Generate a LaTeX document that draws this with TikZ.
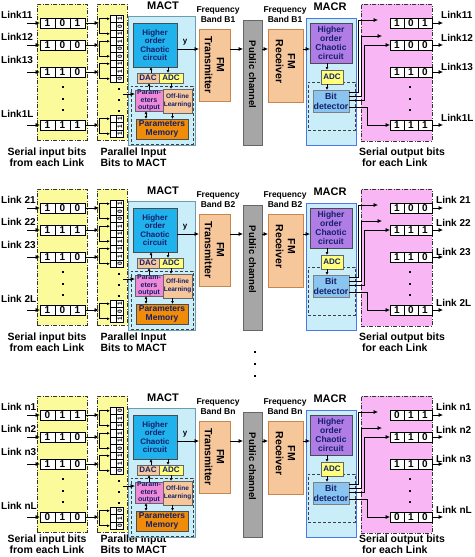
\documentclass[tikz,border=0pt]{standalone}
\usepackage{fontspec}
\setmainfont{Liberation Sans}
\usetikzlibrary{arrows.meta}
\definecolor{ylwbox}{HTML}{FBFB9C}
\definecolor{pinkbox}{HTML}{F9B6F4}
\definecolor{macfill}{HTML}{C9EEFA}
\definecolor{mactdraw}{HTML}{6C9DAE}
\definecolor{macrdraw}{HTML}{4A78F0}
\definecolor{hoccblue}{HTML}{1FB2EC}
\definecolor{hoccpurple}{HTML}{B07CE6}
\definecolor{tanfill}{HTML}{F7C79C}
\definecolor{adcyellow}{HTML}{FFFF7A}
\definecolor{paramout}{HTML}{F08AD8}
\definecolor{memorange}{HTML}{F08C08}
\definecolor{chgray}{HTML}{A6A6A6}
\definecolor{bitdet}{HTML}{8AC4F0}
\definecolor{navytext}{HTML}{14206A}
\definecolor{tandraw}{HTML}{C8864A}

\newcommand\fsz[2]{\fontsize{#1}{#2}\selectfont\bfseries}
\newcommand\regsA{1/23/15/1/0/1/8/8, 2/45/37.5/1/0/0/8/7, 3/72/60/1/1/0/12/5, L/125/115/1/1/1/11/7}
\newcommand\regsB{1/23/15/1/0/0/8/8, 2/45/37.5/1/1/1/8/7, 3/72/60/1/1/0/12/5, L/125/115/1/0/1/11/7}
\newcommand\regsC{1/23/15/0/1/1/8/8, 2/45/37.5/1/1/0/8/7, 3/72/60/1/1/0/12/5, L/125/115/0/1/0/11/7}

\tikzset{
  arr/.style={-{Latex[length=4.5pt,width=4pt]}, line width=0.7pt},
  sarr/.style={-{Latex[length=3pt,width=3pt]}, line width=0.6pt},
  regcell/.style={draw=black, line width=0.9pt, fill=white, minimum height=10, inner sep=0pt, outer sep=0pt, font=\fsz{10}{10}},
  dashdotbox/.style={draw=black!80, line width=0.8pt, dash pattern=on 4pt off 1.5pt on 1pt off 1.5pt, inner sep=0pt, outer sep=0pt},
  blk/.style={draw=#1, line width=0.6pt, inner sep=0pt, outer sep=0pt, align=center, text=navytext},
  plainbox/.style={inner sep=0pt, outer sep=0pt},
  lbl/.style={font=\fsz{10.5}{11}, inner sep=0pt},
  linklbl/.style={font=\fsz{10}{10}, inner sep=0pt, anchor=west},
  gdigit/.style={font=\fsz{6.5}{6.5}, inner sep=0pt, rotate=90},
}

\newcommand\boxat[7]{%
  \node[#2, minimum width={(#5)-(#3)}, minimum height={(#6)-(#4)}] (#1) at ({((#3)+(#5))/2},{((#4)+(#6))/2}) {#7};}
\newcommand\bitreg[7]{%
  \node[regcell,minimum width=#4] (#1-1) at ({#2+#4/2},#3) {#5};
  \node[regcell,minimum width=#4,anchor=west] (#1-2) at (#1-1.east) {#6};
  \node[regcell,minimum width=#4,anchor=west] (#1-3) at (#1-2.east) {#7};}
\newcommand\sqdot[2]{\fill ({#1-1.3},{#2-1.3}) rectangle ++(2.6,2.6);}

\begin{document}
\begin{tikzpicture}[x=1pt,y=-1pt]
\useasboundingbox (0,0) rectangle (474,557);
\fill[white] (0,0) rectangle (474,557);
\clip (0,0) rectangle (474,557);

\foreach \rw/\dy/\lpre/\bnd/\rlist/\olx/\lby in {1/0/Link1/B1/\regsA/441/157.5, 2/185/Link 2/B2/\regsB/436/157.5, 3/392/Link n/Bn/\regsC/436/152.5}{
\begin{scope}[shift={(0,\dy)}]
  \edef\currl{\rlist}
  % ---------- input side boxes
  \boxat{ser\rw}{dashdotbox,fill=ylwbox}{37}{4}{87}{140}{}
  \boxat{par\rw}{dashdotbox,fill=ylwbox}{97}{4}{127}{140}{}
  \boxat{pink\rw}{dashdotbox,fill=pinkbox}{361}{4}{432}{141}{}
  \node[lbl, align=center] (sil\rw) at (47,\lby) {Serial input bits\\from each Link};
  \node[lbl, align=center] (pil\rw) at (133.5,\lby) {Parallel Input\\Bits to MACT};
  \node[lbl, align=left, anchor=west] (sol\rw) at (359,\lby) {Serial output bits\\\hspace*{3pt}for each Link};
  \sqdot{63}{87}\sqdot{63}{99}\sqdot{63}{110}
  \sqdot{410}{87}\sqdot{410}{99}\sqdot{410}{110}
  \sqdot{119}{89}\sqdot{119}{100}\sqdot{119}{111}

  \foreach \kk/\ry/\gy/\ba/\bb/\bc/\ilo/\olo in \currl {
    % serial input register
    \bitreg{sin\rw\kk}{40}{\ry}{15}{\ba}{\bb}{\bc}
    \coordinate (lin\rw\kk) at (27,\ry);
    \draw[arr] (lin\rw\kk) -- (sin\rw\kk-1.west);
    \node[linklbl] (lkin\rw\kk) at (1,\ry-\ilo) {\lpre\kk};
    % parallel grid
    \fill[white] (110,\gy) rectangle (123,\gy+22.5);
    \draw[line width=0.6pt] (110,\gy) rectangle (123,\gy+22.5);
    \draw[line width=0.5pt] (116.5,\gy) -- (116.5,\gy+22.5)
      (110,\gy+7.5) -- (123,\gy+7.5) (110,\gy+15) -- (123,\gy+15);
    \node[gdigit] (g\rw\kk a) at (119.8,\gy+3.75) {\ba};
    \node[gdigit] (g\rw\kk b) at (119.8,\gy+11.25) {\bb};
    \node[gdigit] (g\rw\kk c) at (119.8,\gy+18.75) {\bc};
    \coordinate (bt\rw\kk) at (99,\gy+3.75);
    \coordinate (bb\rw\kk) at (99,\gy+18.75);
    \draw[line width=0.7pt] (bt\rw\kk) -- (bb\rw\kk);
    \draw[sarr] (bt\rw\kk) -- (g\rw\kk a -| 110,0);
    \draw[sarr] (bb\rw\kk) -- (g\rw\kk c -| 110,0);
    \draw[arr] (sin\rw\kk-3.east) -- (sin\rw\kk-3.east -| bt\rw\kk);
    % serial output register
    \bitreg{sout\rw\kk}{390}{\ry}{14}{\ba}{\bb}{\bc}
    \coordinate (oend\rw\kk) at (443,\ry);
    \draw[arr] (sout\rw\kk-3.east) -- (oend\rw\kk);
    \node[linklbl] (lkout\rw\kk) at (\olx,\ry-\olo) {\lpre\kk};
  }

  % ---------- MACT
  \node[font=\fsz{11}{11}, inner sep=0pt] (mactl\rw) at (163,6) {MACT};
  \boxat{mact\rw}{draw=mactdraw,line width=0.8pt,fill=macfill,plainbox}{128}{16}{195}{145}{}
  \boxat{hocc\rw}{blk=black!70,fill=hoccblue,font=\fsz{8}{8.4}}{133}{23}{177}{67}{Higher\\order\\Chaotic\\circuit}
  \node[font=\fsz{8}{8}, inner sep=0pt] (ylab\rw) at (185,42) {y};
  \boxat{dsh\rw}{draw=black!75,line width=0.7pt,dash pattern=on 3pt off 2pt,plainbox}{131}{86}{193}{144}{}
  \boxat{dac\rw}{blk=black!60,fill=tanfill,font=\fsz{8}{8}}{137}{73}{159}{83}{DAC}
  \boxat{adc\rw}{blk=black!60,fill=adcyellow,font=\fsz{8}{8}}{159}{73}{183}{83}{ADC}
  \boxat{pout\rw}{blk=black!60,fill=paramout,font=\fsz{7}{7.2}}{135}{90}{163}{111}{Param-\\eters\\output}
  \boxat{offl\rw}{blk=black!60,fill=tanfill,font=\fsz{6.5}{8}}{163}{89}{192}{113}{Off-line\\Learning}
  \boxat{mem\rw}{blk=black!70,fill=memorange,font=\fsz{8.5}{9}}{136}{119}{188}{139}{Parameters\\Memory}
  \draw[sarr] ([xshift=3pt]dac\rw.north) -- ([xshift=3pt]dac\rw.north |- hocc\rw.south);
  \draw[sarr] ([xshift=-3pt]adc\rw.north |- hocc\rw.south) -- ([xshift=-3pt]adc\rw.north);
  \draw[sarr] (pout\rw.north) -- (pout\rw.north |- dac\rw.south);
  \draw[sarr] (adc\rw.south) -- (adc\rw.south |- offl\rw.north);
  \draw[{Latex[length=3pt,width=3pt]}-{Latex[length=3pt,width=3pt]}, line width=0.6pt] ([xshift=-3pt]pout\rw.south) -- ([xshift=-3pt]pout\rw.south |- mem\rw.north);
  \draw[sarr] ([xshift=-5pt]offl\rw.south) -- ([xshift=-5pt]offl\rw.south |- mem\rw.north);
  \coordinate (pdot\rw) at (123,94);
  \draw[arr] (pdot\rw) -- (pdot\rw -| pout\rw.west);

  % ---------- transmitter, channel, receiver
  \coordinate (sig\rw) at (0,49);
  \boxat{tx\rw}{draw=tandraw,line width=0.7pt,fill=tanfill,plainbox}{199}{29}{230}{101}{}
  \node[rotate=-90, align=center, font=\fsz{10.5}{12}, inner sep=0pt] (txt\rw) at (tx\rw.center) {FM\\Transmitter};
  \node[align=center, font=\fsz{8.5}{10.5}, inner sep=0pt] (fb\rw) at (218,14.5) {Frequency\\Band \bnd};
  \boxat{pub\rw}{draw=black!60,line width=0.7pt,fill=chgray,plainbox}{243}{20}{262}{145}{}
  \node[rotate=-90, font=\fsz{9.5}{10}, inner sep=0pt] (pubt\rw) at ([yshift=8pt]pub\rw.center) {Public channel};
  \boxat{rx\rw}{draw=tandraw,line width=0.7pt,fill=tanfill,plainbox}{268}{29}{303}{102}{}
  \node[rotate=-90, align=center, font=\fsz{10.5}{12}, inner sep=0pt] (rxt\rw) at ([yshift=4pt]rx\rw.center) {FM\\Receiver};
  \node[align=center, font=\fsz{8.5}{10.5}, inner sep=0pt] (fbr\rw) at (285,14.5) {Frequency\\Band \bnd};

  % ---------- MACR
  \node[font=\fsz{11}{11}, inner sep=0pt] (macrl\rw) at (330,7) {MACR};
  \boxat{macr\rw}{draw=macrdraw,line width=0.8pt,fill=macfill,plainbox}{306}{18}{356}{145}{}
  \boxat{hoccp\rw}{blk=black!70,fill=hoccpurple,font=\fsz{8.5}{9.3}}{310}{23}{352}{63}{Higher\\order\\Chaotic\\circuit}
  \boxat{dshr\rw}{draw=black!75,line width=0.7pt,dash pattern=on 3pt off 2pt,plainbox}{308}{82}{355}{130}{}
  \boxat{adcr\rw}{blk=black!60,fill=adcyellow,font=\fsz{8}{8}}{321}{70}{343}{84}{ADC}
  \boxat{bd\rw}{blk=black!50,fill=bitdet,font=\fsz{8.8}{10}}{313}{90}{349}{112}{Bit\\detector}
  \draw[sarr] ([xshift=-5pt]adcr\rw.north |- hoccp\rw.south) -- ([xshift=-5pt]adcr\rw.north);
  \draw[sarr] ([xshift=-5pt]adcr\rw.south) -- ([xshift=-5pt]adcr\rw.south |- bd\rw.north);

  % ---------- signal path
  \draw[arr] (hocc\rw.east |- sig\rw) -- (tx\rw.west |- sig\rw);
  \draw[arr] (tx\rw.east |- sig\rw) -- (pub\rw.west |- sig\rw);
  \draw[arr] (pub\rw.east |- sig\rw) -- (rx\rw.west |- sig\rw);
  \draw[arr] (rx\rw.east |- sig\rw) -- (hoccp\rw.west |- sig\rw);

  % ---------- output wiring
  \coordinate (wa\rw) at (358,20);
  \coordinate (wb\rw) at (361,36);
  \coordinate (wc\rw) at (364,45);
  \coordinate (wd\rw) at (367,125);
  \draw[arr] ([yshift=9pt]bd\rw.east) -| (wa\rw) -- ++(20,0);
  \draw[arr] ([yshift=5pt]bd\rw.east) -| (wb\rw) -- ++(21,0);
  \draw[arr] ([yshift=1pt]bd\rw.east) -| (wc\rw) -- (sout\rw 2-1.west);
  \draw[arr] ([yshift=-6pt]bd\rw.east) -| (wd\rw) -- (sout\rw L-1.west);
\end{scope}
}
% dots between rows
\sqdot{255}{352}\sqdot{255}{364}\sqdot{255}{376}
\end{tikzpicture}
\end{document}
